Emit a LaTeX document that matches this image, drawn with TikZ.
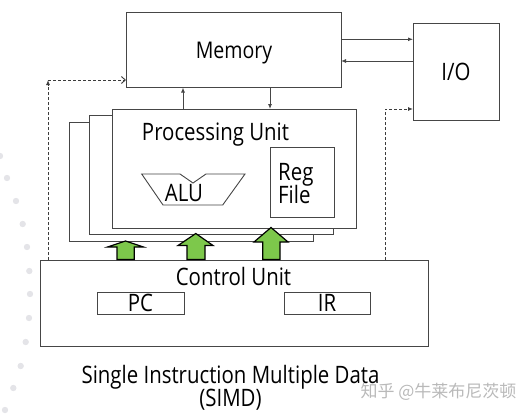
\documentclass[tikz,border=0pt]{standalone}
\usepackage{fontspec}
\setmainfont[FakeStretch=0.85]{Open Sans}
\newfontfamily\cjkfont{Noto Sans CJK SC}
\usetikzlibrary{arrows.meta}
\definecolor{linegray}{RGB}{70,70,70}
\definecolor{dashgray}{RGB}{60,60,60}
\definecolor{arrowgreen}{RGB}{125,200,75}
\definecolor{dotgray}{RGB}{228,228,232}
\definecolor{wmgray}{RGB}{185,185,185}
\begin{document}
\begin{tikzpicture}[x=1pt,y=-1pt,
  box/.style={draw=linegray,line width=1pt,fill=white,inner sep=0pt,outer sep=0pt},
  lbl/.style={inner sep=0pt,anchor=base,font=\fontsize{24}{23}\selectfont},
  conn/.style={draw=linegray,line width=0.9pt,-{Latex[length=5pt,width=4pt]}},
  dconn/.style={draw=dashgray,line width=0.9pt,dash pattern=on 3pt off 2pt},
  blockarrow/.style={draw=black,line width=1.2pt,fill=arrowgreen,line join=miter},
  deco/.style={fill=dotgray,draw=none}
]
\useasboundingbox (0,0) rectangle (526,415);
% faint decoration dots
\foreach \px/\py in {0/156,7/178,16/201,22.7/224,27/247,29.3/271,30/294,29/318,25.7/342,20.7/366,13.3/388,5/410}
  \fill[deco] (\px,\py) circle (3.2);

% boxes
\node[box,minimum width=215pt,minimum height=75pt] (mem) at (233.5,50) {};
\node[lbl,font=\fontsize{23}{23}\selectfont] (memt) at (234,58.3) {Memory};
\node[box,minimum width=86pt,minimum height=97pt] (io) at (456,71.5) {};
\node[lbl] (iot) at (456,80) {I/O};

\node[box,minimum width=244pt,minimum height=119pt] (pu3) at (191,181.5) {};
\node[box,minimum width=244pt,minimum height=119pt] (pu2) at (211,174.5) {};
\node[box,minimum width=244pt,minimum height=119pt] (pu1) at (234,168.5) {};
\node[lbl] (put) at (215.5,140) {Processing Unit};
\node[box,minimum width=64pt,minimum height=70pt] (reg) at (302,182) {};
\node[lbl,anchor=base west] (regt1) at (278,180) {Reg};
\node[lbl,anchor=base west] (regt2) at (278,203) {File};

% ALU
\coordinate (a1) at (141.7,174);
\coordinate (a2) at (180,174);
\coordinate (a3) at (193,183);
\coordinate (a4) at (206,174);
\coordinate (a5) at (245,174);
\coordinate (a6) at (222.7,205);
\coordinate (a7) at (163,205);
\draw[draw=linegray,line width=0.9pt] (a1) -- (a2) -- (a3) -- (a4) -- (a5) -- (a6) -- (a7) -- cycle;
\node[lbl] (alut) at (184,201) {ALU};

% control unit
\node[box,minimum width=388pt,minimum height=86pt] (cu) at (234,303) {};
\node[lbl] (cut) at (233.5,285) {Control Unit};
\node[box,minimum width=87pt,minimum height=22pt] (pc) at (140.5,303) {};
\node[lbl] (pct) at (140.5,311) {PC};
\node[box,minimum width=86pt,minimum height=22pt] (ir) at (327,303) {};
\node[lbl] (irt) at (327,311) {IR};

% caption
\node[lbl] (cap1) at (230.5,383) {Single Instruction Multiple Data};
\node[lbl] (cap2) at (230.5,406) {(SIMD)};
\node[inner sep=0pt,text=wmgray,font=\cjkfont\fontsize{17}{18}\selectfont] (wm) at (438.5,392) {知乎 @牛莱布尼茨顿};

% memory <-> io
\coordinate (y39) at (0,39.3);
\coordinate (y61) at (0,61);
\draw[conn] (mem.east |- y39) -- (io.west |- y39);
\draw[conn] (io.west |- y61) -- (mem.east |- y61);
% memory <-> PU
\coordinate (x183) at (183,0);
\coordinate (x270) at (270,0);
\draw[conn] (pu1.north -| x183) -- (mem.south -| x183);
\draw[conn] (mem.south -| x270) -- (pu1.north -| x270);

% dashed control paths
\coordinate (x48) at (48,0);
\coordinate (y80) at (0,80);
\coordinate (c48) at (48,80);
\draw[dconn,-{Latex[length=5pt,width=4pt]}] (cu.north -| x48) -- (c48);
\draw[dconn,-{Straight Barb[length=4pt,width=7pt]}] (c48) -- (mem.west |- y80);
\coordinate (x385) at (385,0);
\coordinate (y109) at (0,109);
\draw[dconn,-{Latex[length=5pt,width=4pt]}] (cu.north -| x385) |- (io.west |- y109);

% green block arrows
\draw[blockarrow] (117,259.5) -- (117,247) -- (107.5,247) -- (125.5,241) -- (143.5,247) -- (134.3,247) -- (134.3,259.5) -- cycle;
\draw[blockarrow] (187,259.5) -- (187,245.5) -- (178,245.5) -- (195.8,233.5) -- (213,245.5) -- (205,245.5) -- (205,259.5) -- cycle;
\draw[blockarrow] (262.7,259.5) -- (262.7,242) -- (254,242) -- (271,227.5) -- (288,242) -- (280,242) -- (280,259.5) -- cycle;
\end{tikzpicture}
\end{document}
